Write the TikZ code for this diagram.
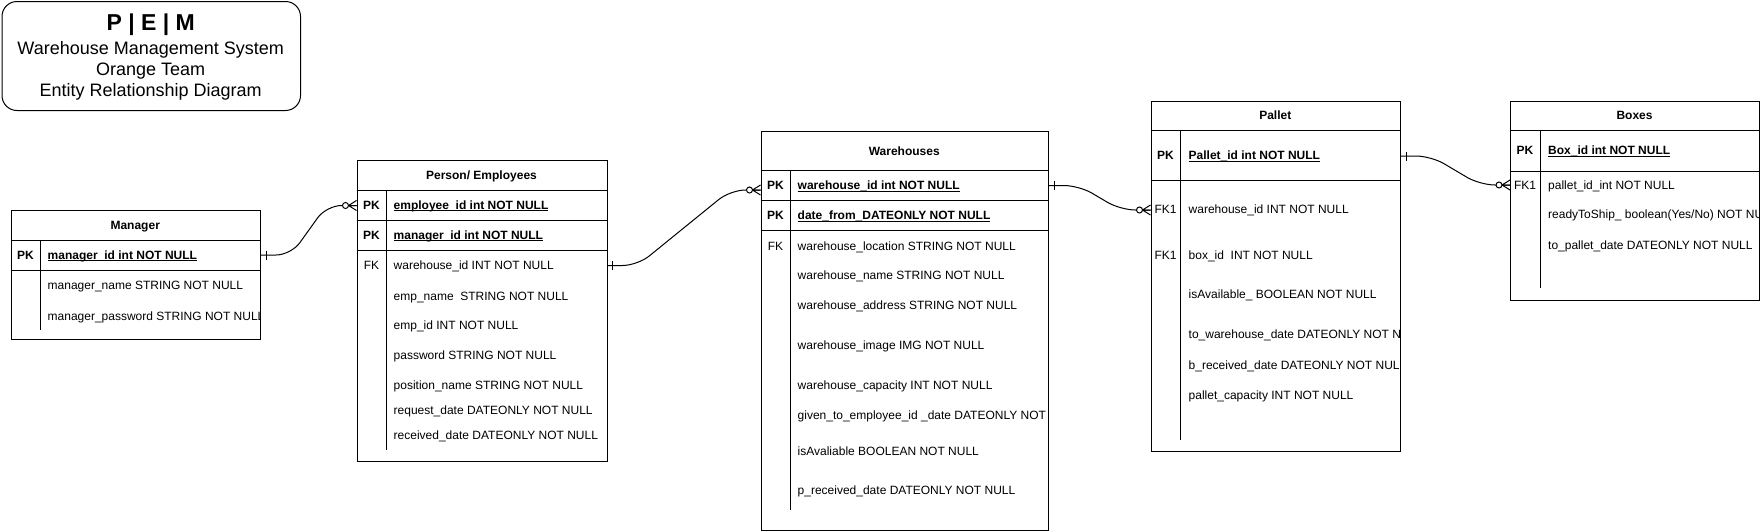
\documentclass[tikz,border=0pt]{standalone}
\usepackage{fontspec}
\setmainfont{Liberation Sans}
\usetikzlibrary{calc}
\newcommand\keyul[1]{\setbox0\hbox{#1}\rlap{\rule[-1.8pt]{\wd0}{0.9pt}}\box0}
\newcommand\fszA{\fontsize{12}{14}\selectfont}
\begin{document}
\begin{tikzpicture}[x=1pt,y=-1pt,
  tbl/.style={draw, line width=1pt, inner sep=0pt, anchor=north west, fill=white},
  rowline/.style={line width=1pt},
  fld/.style={anchor=west, inner sep=0pt, text height=8.6pt, text depth=0pt, font=\fszA},
  keylbl/.style={anchor=center, inner sep=0pt, text height=8.6pt, text depth=0pt, font=\fszA},
  pklbl/.style={keylbl, font=\fszA\bfseries},
  ttl/.style={anchor=center, inner sep=0pt, text height=8.6pt, text depth=0pt, font=\fszA\bfseries},
  bigline/.style={anchor=center, inner sep=0pt, text height=12.9pt, text depth=0pt, font=\fontsize{18}{21.6}\selectfont},
  conn/.style={line width=1pt, rounded corners=15pt},
  eone/.pic={\draw[line width=1pt] (5,-4.5) -- (5,4.5);},
  ezmany/.pic={\draw[line width=1pt] (-8,0) -- (0,-5) (-8,0) -- (0,5) (-8,0) -- (0,0);
               \draw[line width=1pt, fill=white] (-11,0) circle (3pt);}
]
\useasboundingbox (0,0) rectangle (1761,531);

% ---------- title box ----------
\node[draw, line width=1pt, rounded corners=15pt, minimum width=298.5pt, minimum height=109pt, anchor=north west, inner sep=0pt] (title) at (1.5,1) {};
\node[anchor=center, inner sep=0pt, text height=16.5pt, text depth=0pt, font=\fontsize{23}{27}\selectfont\bfseries] (t1) at (150.7,22.7) {P | E | M};
\node[bigline] (t2) at (150.7,48.3) {Warehouse Management System};
\node[bigline] (t3) at (150.7,69.3) {Orange Team};
\node[bigline] (t4) at (150.7,90.3) {Entity Relationship Diagram};

% ---------- Manager ----------
\node[tbl, minimum width=249.5pt, minimum height=129pt] (mgr) at (10.5,210) {};
\draw[rowline] (10.5,240.5) -- (260,240.5) (10.5,270) -- (260,270) (40.5,240.5) -- (40.5,330);
\node[ttl] (mgrT) at (135.25,225.5) {Manager};
\begin{scope}
\clip (10.5,210) rectangle (260,339);
\node[pklbl] (mgrK1) at (25.5,255) {PK};
\node[fld, font=\fszA\bfseries] (mgrF1) at (47.5,255) {\keyul{manager\_id int NOT NULL}};
\node[fld] (mgrF2) at (47.5,285.5) {manager\_name STRING NOT NULL};
\node[fld] (mgrF3) at (47.5,316) {manager\_password STRING NOT NULL};
\end{scope}

% ---------- Person/ Employees ----------
\node[tbl, minimum width=250pt, minimum height=300.5pt] (emp) at (356.5,160) {};
\draw[rowline] (356.5,190.5) -- (606.5,190.5) (356.5,220) -- (606.5,220) (356.5,250) -- (606.5,250) (386.5,190.5) -- (386.5,450);
\node[ttl] (empT) at (481.5,175.5) {Person/ Employees};
\begin{scope}
\clip (356.5,160) rectangle (606.5,460.5);
\node[pklbl] (empK1) at (371.5,205) {PK};
\node[pklbl] (empK2) at (371.5,235) {PK};
\node[keylbl] (empK3) at (371.5,265.5) {FK};
\node[fld, font=\fszA\bfseries] (empF1) at (393.5,205) {\keyul{employee\_id int NOT NULL}};
\node[fld, font=\fszA\bfseries] (empF2) at (393.5,235) {\keyul{manager\_id int NOT NULL}};
\node[fld] (empF3) at (393.5,265.5) {warehouse\_id INT NOT NULL};
\node[fld] (empF4) at (393.5,296.5) {emp\_name\ \ STRING NOT NULL};
\node[fld] (empF5) at (393.5,325) {emp\_id INT NOT NULL};
\node[fld] (empF6) at (393.5,355) {password STRING NOT NULL};
\node[fld] (empF7) at (393.5,385) {position\_name STRING NOT NULL};
\node[fld] (empF8) at (393.5,410) {request\_date DATEONLY NOT NULL};
\node[fld] (empF9) at (393.5,435) {received\_date DATEONLY NOT NULL};
\end{scope}

% ---------- Warehouses ----------
\node[tbl, minimum width=287.5pt, minimum height=399pt] (wh) at (760.5,130.5) {};
\draw[rowline] (760.5,170.5) -- (1048,170.5) (760.5,200.5) -- (1048,200.5) (760.5,230) -- (1048,230) (790.5,170.5) -- (790.5,510);
\node[ttl] (whT) at (904.25,151) {Warehouses};
\begin{scope}
\clip (760.5,130.5) rectangle (1048,529.5);
\node[pklbl] (whK1) at (775.5,185.5) {PK};
\node[pklbl] (whK2) at (775.5,215.5) {PK};
\node[keylbl] (whK3) at (775.5,246) {FK};
\node[fld, font=\fszA\bfseries] (whF1) at (797.5,185.5) {\keyul{warehouse\_id int NOT NULL}};
\node[fld, font=\fszA\bfseries] (whF2) at (797.5,215.5) {\keyul{date\_from\_DATEONLY NOT NULL}};
\node[fld] (whF3) at (797.5,246) {warehouse\_location STRING NOT NULL};
\node[fld] (whF4) at (797.5,275.5) {warehouse\_name STRING NOT NULL};
\node[fld] (whF5) at (797.5,305.5) {warehouse\_address STRING NOT NULL};
\node[fld] (whF6) at (797.5,345.5) {warehouse\_image IMG NOT NULL};
\node[fld] (whF7) at (797.5,385.5) {warehouse\_capacity INT NOT NULL};
\node[fld] (whF8) at (797.5,415.5) {given\_to\_employee\_id \_date DATEONLY NOT NULL};
\node[fld] (whF9) at (797.5,451.5) {isAvaliable BOOLEAN NOT NULL};
\node[fld] (whF10) at (797.5,490.5) {p\_received\_date DATEONLY NOT NULL};
\end{scope}

% ---------- Pallet ----------
\node[tbl, minimum width=249.5pt, minimum height=350pt] (pal) at (1150.5,100.5) {};
\draw[rowline] (1150.5,130) -- (1400,130) (1150.5,180.5) -- (1400,180.5) (1180.5,130) -- (1180.5,440);
\node[ttl] (palT) at (1275.25,115.5) {Pallet};
\begin{scope}
\clip (1150.5,100.5) rectangle (1400,450.5);
\node[pklbl] (palK1) at (1165.5,155.5) {PK};
\node[keylbl] (palK2) at (1165.5,209.5) {FK1};
\node[keylbl] (palK3) at (1165.5,255.5) {FK1};
\node[fld, font=\fszA\bfseries] (palF1) at (1188.5,155.5) {\keyul{Pallet\_id int NOT NULL}};
\node[fld] (palF2) at (1188.5,209.5) {warehouse\_id INT NOT NULL};
\node[fld] (palF3) at (1188.5,255.5) {box\_id\ \ INT NOT NULL};
\node[fld] (palF4) at (1188.5,294) {isAvailable\_ BOOLEAN NOT NULL};
\node[fld] (palF5) at (1188.5,334.5) {to\_warehouse\_date DATEONLY NOT NULL};
\node[fld] (palF6) at (1188.5,365) {b\_received\_date DATEONLY NOT NULL};
\node[fld] (palF7) at (1188.5,395) {pallet\_capacity INT NOT NULL};
\end{scope}

% ---------- Boxes ----------
\node[tbl, minimum width=249pt, minimum height=199pt] (box) at (1510,100.5) {};
\draw[rowline] (1510,130) -- (1759,130) (1510,171) -- (1759,171) (1540.5,130) -- (1540.5,288);
\node[ttl] (boxT) at (1634.5,115.5) {Boxes};
\begin{scope}
\clip (1510,100.5) rectangle (1759,299.5);
\node[pklbl] (boxK1) at (1525,150.5) {PK};
\node[keylbl] (boxK2) at (1525,185) {FK1};
\node[fld, font=\fszA\bfseries] (boxF1) at (1548,150.5) {\keyul{Box\_id int NOT NULL}};
\node[fld] (boxF2) at (1548,185) {pallet\_id\_int NOT NULL};
\node[fld] (boxF3) at (1548,214.5) {readyToShip\_ boolean(Yes/No) NOT NULL};
\node[fld] (boxF4) at (1548,245) {to\_pallet\_date DATEONLY NOT NULL};
\end{scope}

% ---------- connector ends ----------
\coordinate (c1s) at (mgr.east |- mgrF1);
\coordinate (c1e) at ($(emp.west |- empF1)+(0,0.5)$);
\coordinate (c2s) at (emp.east |- empF3);
\coordinate (c2e) at ($(wh.west |- whF1)+(0,4.5)$);
\coordinate (c3s) at (wh.east |- whF1);
\coordinate (c3e) at ($(pal.west |- palF2)+(0,0.5)$);
\coordinate (c4s) at ($(pal.east |- palF1)+(0,0.5)$);
\coordinate (c4e) at (box.west |- boxF2);

% ---------- connectors ----------
\draw[conn] (c1s) -- ++(30,0) -- ($(c1e)+(-30,0)$) -- (c1e);
\draw[conn] (c2s) -- ++(30,0) -- ($(c2e)+(-30,0)$) -- (c2e);
\draw[conn] (c3s) -- ++(30,0) -- ($(c3e)+(-30,0)$) -- (c3e);
\draw[conn] (c4s) -- ++(30,0) -- ($(c4e)+(-30,0)$) -- (c4e);
\pic at (c1s) {eone};
\pic at (c2s) {eone};
\pic at (c3s) {eone};
\pic at (c4s) {eone};
\pic at (c1e) {ezmany};
\pic at (c2e) {ezmany};
\pic at (c3e) {ezmany};
\pic at (c4e) {ezmany};
\end{tikzpicture}
\end{document}
